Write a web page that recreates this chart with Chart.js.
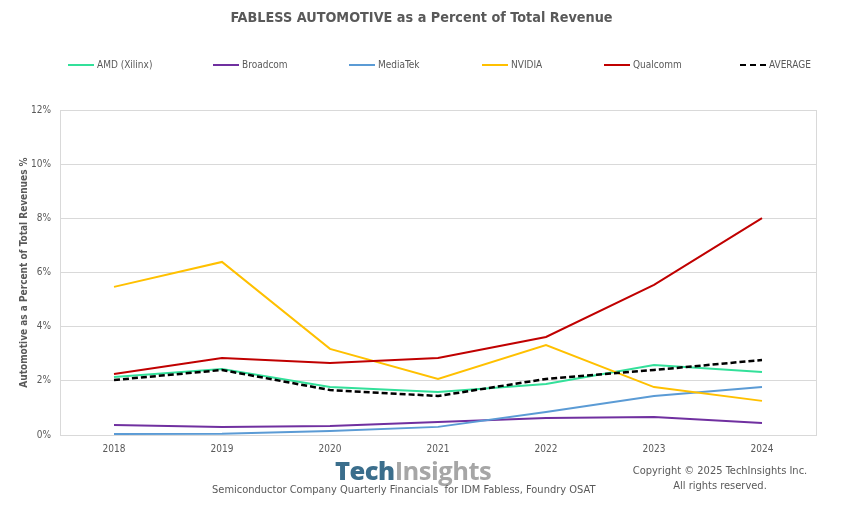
<!DOCTYPE html>
<html>
<head>
<meta charset="utf-8">
<script src="https://cdn.jsdelivr.net/npm/chart.js@4"></script>
<style>
  body { margin: 0; background: #fff; }
  #wrap { position: relative; width: 843px; height: 506px; font-family: "Liberation Sans Narrow", "DejaVu Sans Condensed", sans-serif; color: #595959; }
  #chart { position: absolute; left: 0; top: 0; }
  #title { position: absolute; top: 9px; left: 0; width: 843px; text-align: center; font-size: 14.3px; font-weight: bold; }
  #legend { position: absolute; top: 58px; left: 0; width: 843px; height: 14px; }
  .lg { position: absolute; font-size: 10px; line-height: 14px; white-space: nowrap; }
  .lg span { display: inline-block; width: 26px; vertical-align: middle; margin-right: 3px; }
  #logo { position: absolute; left: 335px; top: 455px; font-family: "Open Sans", sans-serif; font-weight: bold; font-size: 25.5px; letter-spacing: -0.5px; line-height: 30px; }
  #logo b { color: #3b6e8c; }
  #logo i { font-style: normal; color: #a6a6a6; }
  #sub { position: absolute; left: 212px; top: 483px; font-size: 11px; }
  #copy { position: absolute; left: 620px; width: 200px; top: 463px; font-size: 11px; text-align: center; line-height: 15px; }
</style>
</head>
<body>
<div id="wrap">
  <canvas id="chart" width="843" height="506"></canvas>
  <div id="title">FABLESS AUTOMOTIVE as a Percent of Total Revenue</div>
  <div id="legend"></div>
  <div id="logo"><b>Tech</b><i>Insights</i></div>
  <div id="sub">Semiconductor Company Quarterly Financials&nbsp; for IDM Fabless, Foundry OSAT</div>
  <div id="copy">Copyright © 2025 TechInsights Inc.<br>All rights reserved.</div>
</div>
<script>
const years = ['2018', '2019', '2020', '2021', '2022', '2023', '2024'];
const amd = [2.14, 2.44, 1.77, 1.59, 1.88, 2.58, 2.33];
const broadcom = [0.37, 0.30, 0.33, 0.48, 0.63, 0.66, 0.44];
const mediatek = [0.04, 0.05, 0.15, 0.30, 0.85, 1.44, 1.77];
const nvidia = [5.47, 6.39, 3.18, 2.07, 3.32, 1.77, 1.26];
const qualcomm = [2.25, 2.84, 2.66, 2.84, 3.62, 5.54, 8.01];
const average = [2.03, 2.40, 1.66, 1.44, 2.07, 2.40, 2.77];
const yTicks = [0, 2, 4, 6, 8, 10, 12];

const FONT = '"Liberation Sans Narrow", "DejaVu Sans Condensed", sans-serif';

const series = [
    { label: 'AMD (Xilinx)', data: amd, color: '#33e09a', x: 68 },
    { label: 'Broadcom', data: broadcom, color: '#7030a0', x: 213 },
    { label: 'MediaTek', data: mediatek, color: '#5b9bd5', x: 349 },
    { label: 'NVIDIA', data: nvidia, color: '#ffc000', x: 482 },
    { label: 'Qualcomm', data: qualcomm, color: '#c00000', x: 604 },
    { label: 'AVERAGE', data: average, color: '#000000', x: 740, dash: true }
];

// legend in html, spaced like the original
const legend = document.getElementById('legend');
series.forEach(s => {
    const d = document.createElement('div');
    d.className = 'lg';
    d.style.left = s.x + 'px';
    const line = s.dash ? 'border-top: 2px dashed ' + s.color : 'border-top: 2px solid ' + s.color;
    d.innerHTML = '<span style="' + line + '"></span>' + s.label;
    legend.appendChild(d);
});

// light border round the plot area
const plotBorder = {
    id: 'plotBorder',
    beforeDatasetsDraw(chart) {
        const a = chart.chartArea;
        const c = chart.ctx;
        c.save();
        c.strokeStyle = '#d9d9d9';
        c.lineWidth = 1;
        c.strokeRect(Math.round(a.left) + 0.5, Math.round(a.top) + 0.5, Math.round(a.right - a.left), Math.round(a.bottom - a.top));
        c.restore();
    }
};

const ctx = document.getElementById('chart').getContext('2d');
new Chart(ctx, {
    type: 'line',
    data: {
        labels: years,
        datasets: series.map(s => ({
            label: s.label,
            data: s.data,
            borderColor: s.color,
            backgroundColor: s.color,
            borderWidth: s.dash ? 2.5 : 2,
            borderDash: s.dash ? [6, 3] : [],
            pointRadius: 0,
            tension: 0,
            fill: false
        })).reverse()
    },
    options: {
        responsive: false,
        animation: false,
        layout: { padding: { left: 0, top: 110, right: 27, bottom: 0 } },
        plugins: {
            legend: { display: false },
            title: { display: false },
            tooltip: { enabled: false }
        },
        scales: {
            x: {
                offset: true,
                afterFit(scale) { scale.height = 71; },
                grid: { display: false, drawTicks: false },
                border: { display: false },
                ticks: { color: '#595959', font: { family: FONT, size: 10 }, padding: 8, maxRotation: 0 }
            },
            y: {
                min: 0,
                max: 12,
                afterFit(scale) { scale.width = 60; },
                afterBuildTicks(scale) { scale.ticks = yTicks.map(v => ({ value: v })); },
                grid: { color: '#d9d9d9', drawTicks: false },
                border: { display: false },
                ticks: {
                    color: '#595959',
                    font: { family: FONT, size: 10 },
                    padding: 9,
                    callback: v => v + '%'
                },
                title: {
                    display: true,
                    text: 'Automotive as a Percent of Total Revenues %',
                    color: '#595959',
                    font: { family: FONT, size: 10, weight: 'bold' },
                    padding: { top: 18, bottom: 0 }
                }
            }
        }
    },
    plugins: [plotBorder]
});
</script>
</body>
</html>
